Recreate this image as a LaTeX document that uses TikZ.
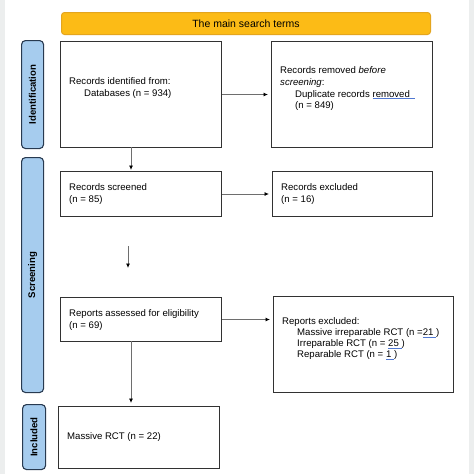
\documentclass[tikz,border=0pt]{standalone}
\usepackage{fontspec}
\setmainfont{Liberation Sans}
\usetikzlibrary{arrows.meta}
\definecolor{barfill}{RGB}{252,187,22}
\definecolor{barline}{RGB}{228,165,30}
\definecolor{lblfill}{RGB}{166,204,238}
\definecolor{lblline}{RGB}{40,58,80}
\definecolor{boxline}{RGB}{50,50,50}
\definecolor{arrgray}{RGB}{110,110,110}
\definecolor{ulblue}{RGB}{80,120,210}
\definecolor{edgegray}{RGB}{236,238,238}
\newcommand{\bluline}[1]{{\color{ulblue}\underline{\color{black}#1}}}
\begin{document}
\begin{tikzpicture}[x=1pt,y=-1pt,
  box/.style={draw=boxline, line width=1pt, fill=white, anchor=north west, inner sep=0},
  lbl/.style={draw=lblline, fill=lblfill, line width=1.1pt, rounded corners=4pt, inner sep=0, anchor=north west},
  lbltxt/.style={rotate=90, font=\bfseries\fontsize{9.6}{11}\selectfont, inner sep=0},
  txt/.style={anchor=north west, inner sep=0, align=left, font=\fontsize{9.6}{11.7}\selectfont},
  conn/.style={draw=arrgray, line width=0.8pt, -{Latex[length=4.5pt,width=4pt,color=black]}}
]
\useasboundingbox (0,0) rectangle (474,474);
\fill[edgegray] (0,0) rectangle (474,474);
\fill[white] (5,0) rectangle (469,474);

% top bar
\node[draw=barline, fill=barfill, line width=1pt, rounded corners=3pt, anchor=north west, inner sep=0,
  minimum width=369pt, minimum height=22pt, font=\fontsize{10.5}{12}\selectfont] (bar) at (61,12) {The main search terms};

% side labels
\node[lbl, minimum width=22pt, minimum height=108pt] (l1) at (21,40) {};
\node[lbltxt] (l1t) at (l1.center) {Identification};
\node[lbl, minimum width=22pt, minimum height=235pt] (l2) at (21,157) {};
\node[lbltxt] (l2t) at (l2.center) {Screening};
\node[lbl, minimum width=23pt, minimum height=65pt] (l3) at (22,404) {};
\node[lbltxt] (l3t) at (l3.center) {Included};

% boxes
\node[box, minimum width=161pt, minimum height=106pt] (b1) at (60,41) {};
\node[box, minimum width=161pt, minimum height=106pt] (b2) at (271,41) {};
\node[box, minimum width=161pt, minimum height=45pt] (b3) at (60,171) {};
\node[box, minimum width=160pt, minimum height=45pt] (b4) at (272,171) {};
\node[box, minimum width=161pt, minimum height=44pt] (b5) at (60,297) {};
\node[box, minimum width=180pt, minimum height=96pt] (b6) at (273,296) {};
\node[box, minimum width=161pt, minimum height=62pt] (b7) at (58,406) {};

% texts
\node[txt] (t1) at (69,77.5) {Records identified from:\\\hspace*{15pt}Databases (n = 934)};
\node[txt] (t2) at (280,66.5) {Records removed \textit{before}\\\textit{screening}:\\\hspace*{15pt}Duplicate records \bluline{removed\ \ }\\\hspace*{15pt}(n = 849)};
\node[txt] (t3) at (69,183.5) {Records screened\\(n = 85)};
\node[txt] (t4) at (281,183.5) {Records excluded\\(n = 16)};
\node[txt] (t5) at (69,309.5) {Reports assessed for eligibility\\(n = 69)};
\node[txt, font=\fontsize{9.6}{11}\selectfont] (t6) at (282,317.5) {Reports excluded:\\
  \hspace*{15pt}Massive irreparable RCT (n =\bluline{21 })\\
  \hspace*{15pt}Irreparable RCT (n = \bluline{25 })\\
  \hspace*{15pt}Reparable RCT (n = \bluline{1 })};
\node[txt] (t7) at (67,432.5) {Massive RCT (n = 22)};

% connectors
\coordinate (c1a) at (131,147);
\coordinate (c1b) at (131,170);
\coordinate (fa1) at (128,246);
\coordinate (fa2) at (128,268);
\coordinate (c5a) at (131,341);
\coordinate (c5b) at (131,403);
\draw[conn, shorten >=3pt] (b1.east) -- (b2.west);
\draw[conn] (c1a) -- (c1b);
\draw[conn, shorten >=3pt] (b3.east) -- (b4.west);
\draw[conn] (fa1) -- (fa2);
\draw[conn, shorten >=3pt] (b5.east) -- (b5.east -| b6.west);
\draw[conn] (c5a) -- (c5b);
\end{tikzpicture}
\end{document}
